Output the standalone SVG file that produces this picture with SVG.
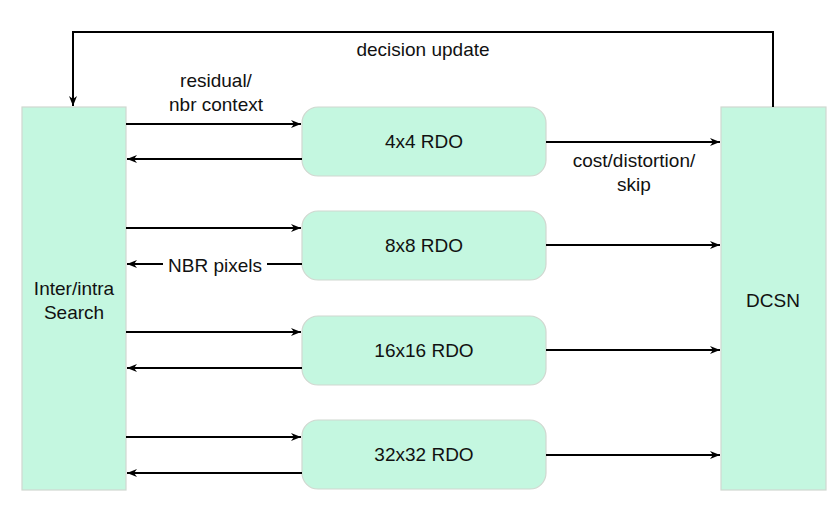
<svg xmlns="http://www.w3.org/2000/svg" width="839" height="519" viewBox="0 0 839 519">
<defs><marker id="a" viewBox="0 0 10 8" refX="10" refY="4" markerWidth="10" markerHeight="8" markerUnits="userSpaceOnUse" orient="auto"><path d="M0,0 L10,4 L0,8 L3,4 Z" fill="#000"/></marker></defs>
<style>.n{fill:#c4f7e0;stroke:#d0d8d0;stroke-width:1.2}.c{stroke:#000;stroke-width:2;fill:none;marker-end:url(#a)}text{font-family:"Liberation Sans",Arial,sans-serif;font-size:19px;fill:#111;text-anchor:middle}</style>
<rect width="839" height="519" fill="#fff"/>
<g id="search"><rect class="n" x="22" y="107" width="104" height="383"/><text x="74" y="295">Inter/intra</text><text x="74" y="319">Search</text></g>
<g id="dcsn"><rect class="n" x="721" y="107" width="105" height="383"/><text x="773" y="307">DCSN</text></g>
<g id="r4"><rect class="n" x="302" y="107" width="244" height="69" rx="16"/><text x="424" y="148">4x4 RDO</text></g>
<g id="r8"><rect class="n" x="302" y="211" width="244" height="69" rx="16"/><text x="424" y="252">8x8 RDO</text></g>
<g id="r16"><rect class="n" x="302" y="316" width="244" height="69" rx="16"/><text x="424" y="357">16x16 RDO</text></g>
<g id="r32"><rect class="n" x="302" y="420" width="244" height="69" rx="16"/><text x="424" y="461">32x32 RDO</text></g>
<g id="connectors">
<path class="c" d="M773,107 V32 H73 V106"/>
<path class="c" d="M126,124 H301"/><path class="c" d="M302,159 H127"/>
<path class="c" d="M126,228 H301"/><path class="c" d="M302,264 H127"/>
<path class="c" d="M126,332 H301"/><path class="c" d="M302,368 H127"/>
<path class="c" d="M126,437 H301"/><path class="c" d="M302,473 H127"/>
<path class="c" d="M546,142 H720"/><path class="c" d="M546,245 H720"/>
<path class="c" d="M546,350 H720"/><path class="c" d="M546,455 H720"/>
</g>
<rect x="163" y="252" width="104" height="24" fill="#fff"/>
<text x="215" y="272">NBR pixels</text>
<text x="423" y="56">decision update</text>
<text x="216" y="87">residual/</text><text x="216" y="111">nbr context</text>
<text x="634" y="167">cost/distortion/</text><text x="634" y="191">skip</text>
</svg>
